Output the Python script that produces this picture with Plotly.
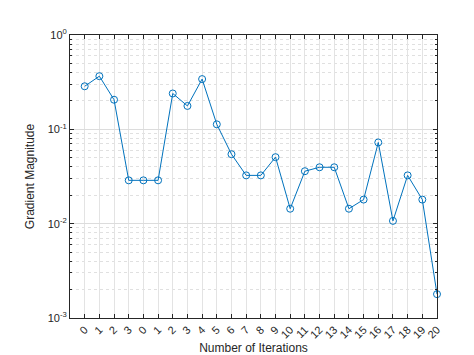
import plotly.graph_objects as go

iter_labels = ["0", "1", "2", "3", "0", "1", "2", "3", "4", "5", "6", "7", "8", "9",
               "10", "11", "12", "13", "14", "15", "16", "17", "18", "19", "20"]
grad_mag = [0.286, 0.366, 0.206, 0.0288, 0.0288, 0.0288, 0.240, 0.177, 0.341, 0.113,
            0.0545, 0.0325, 0.0325, 0.0507, 0.0144, 0.0360, 0.0396, 0.0396, 0.0144,
            0.0180, 0.0726, 0.0107, 0.0325, 0.0180, 0.00179]
y_ticks = [1e-3, 1e-2, 1e-1, 1]
y_ticktext = ["10<sup>-3</sup>", "10<sup>-2</sup>", "10<sup>-1</sup>", "10<sup>0</sup>"]

xpos = list(range(1, len(grad_mag) + 1))
minor_vals = [m * 10**e for e in (-3, -2, -1) for m in range(2, 10)]

fig = go.Figure()
fig.add_trace(go.Scatter(
    x=xpos, y=grad_mag, mode="lines+markers",
    line=dict(color="#0072BD", width=1),
    marker=dict(symbol="circle-open", size=7, color="#0072BD", line=dict(width=1)),
    cliponaxis=False, showlegend=False,
))

fig.update_layout(
    width=474, height=355,
    margin=dict(l=62, r=45, t=27, b=39),
    paper_bgcolor="white", plot_bgcolor="white",
    font=dict(family="Liberation Sans, Arial, sans-serif", size=12, color="#262626"),
)
fig.update_xaxes(
    range=[0, 25], tickmode="array", tickvals=xpos, ticktext=iter_labels,
    tickangle=-45, ticks="inside", ticklen=4, tickcolor="#262626",
    showline=True, linecolor="#262626", linewidth=1, mirror="allticks",
    showgrid=True, gridcolor="#e3e3e3", gridwidth=1, zeroline=False,
    title=dict(text="Number of Iterations", font=dict(size=12), standoff=2),
    tickfont=dict(size=11),
)
fig.update_yaxes(
    type="log", range=[-3, 0], tickmode="array", tickvals=y_ticks, ticktext=y_ticktext,
    ticks="inside", ticklen=4, tickcolor="#262626",
    showline=True, linecolor="#262626", linewidth=1, mirror="allticks",
    showgrid=True, gridcolor="#dcdcdc", gridwidth=1, zeroline=False,
    minor=dict(tickmode="array", tickvals=minor_vals, ticks="inside", ticklen=2,
               tickcolor="#262626", showgrid=True, gridcolor="#e0e0e0", griddash="dot"),
    title=dict(text="Gradient Magnitude", font=dict(size=12), standoff=10),
    tickfont=dict(size=11),
)

fig.write_html("out.html")
